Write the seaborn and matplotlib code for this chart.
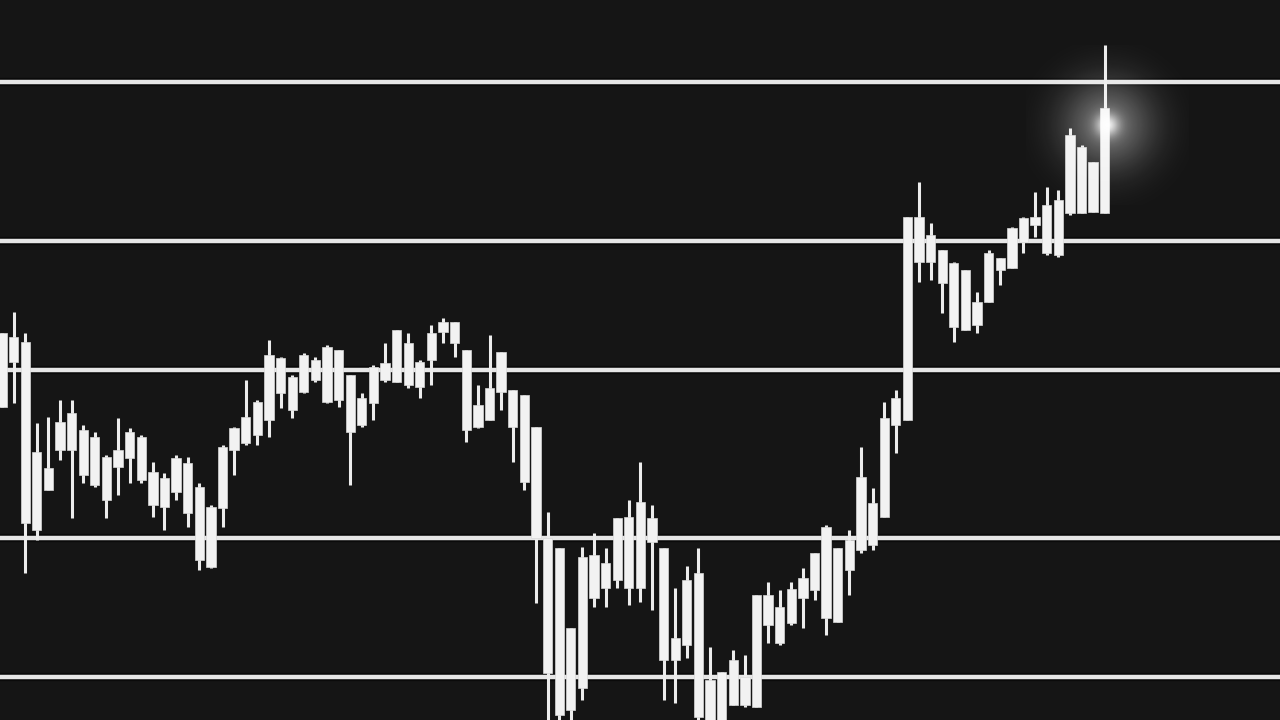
import numpy as np
import pandas as pd
from matplotlib import pyplot as plt
import seaborn as sns

# candle levels (depth scale: 0 = top of chart, 720 = bottom)
wick_top = [333, 312, 333, 423, 417, 400, 400, 425, 432, 455, 418, 428, 435, 462, 473, 455,
            457, 483, 505, 445, 427, 380, 400, 340, 357, 375, 353, 357, 345, 350, 375, 393,
            365, 343, 330, 333, 360, 325, 318, 322, 350, 385, 335, 352, 390, 395, 427, 512,
            548, 628, 547, 533, 548, 518, 500, 462, 505, 548, 588, 566, 548, 647, 672, 650,
            655, 595, 582, 590, 582, 568, 553, 525, 548, 530, 447, 488, 402, 390, 217, 182,
            223, 250, 262, 270, 292, 250, 258, 227, 217, 192, 187, 190, 128, 145, 162, 45]
body_top = [333, 337, 342, 452, 468, 422, 413, 430, 437, 457, 450, 432, 437, 472, 478, 458,
            463, 487, 507, 447, 428, 417, 402, 355, 358, 377, 355, 360, 347, 350, 375, 398,
            367, 363, 330, 343, 362, 333, 322, 322, 350, 405, 388, 352, 390, 395, 427, 538,
            548, 628, 557, 555, 563, 518, 517, 502, 518, 548, 638, 580, 573, 680, 672, 660,
            677, 595, 595, 607, 589, 578, 553, 527, 548, 540, 477, 503, 418, 398, 217, 217,
            235, 250, 263, 270, 302, 253, 258, 228, 218, 217, 205, 200, 135, 147, 162, 108]
body_bot = [407, 362, 523, 530, 490, 450, 450, 475, 485, 500, 467, 458, 480, 505, 507, 492,
            513, 560, 567, 508, 450, 443, 435, 420, 393, 410, 392, 380, 402, 400, 432, 425,
            403, 380, 382, 385, 387, 360, 332, 343, 430, 427, 420, 392, 427, 482, 538, 673,
            715, 710, 688, 598, 588, 580, 588, 588, 542, 660, 660, 645, 717, 720, 720, 705,
            705, 707, 625, 643, 623, 598, 590, 618, 622, 570, 550, 545, 517, 425, 420, 262,
            262, 283, 327, 330, 325, 302, 270, 268, 242, 225, 253, 255, 213, 213, 212, 213]
wick_bot = [407, 403, 573, 540, 490, 460, 518, 483, 487, 518, 495, 483, 483, 517, 530, 500,
            527, 570, 568, 527, 475, 445, 445, 437, 408, 418, 393, 382, 403, 407, 485, 427,
            420, 382, 382, 388, 398, 385, 343, 357, 442, 428, 420, 410, 462, 490, 603, 720,
            720, 720, 700, 607, 607, 588, 605, 602, 610, 700, 703, 658, 720, 720, 720, 705,
            707, 707, 643, 645, 625, 628, 600, 635, 622, 595, 553, 550, 517, 453, 420, 282,
            280, 313, 342, 330, 333, 302, 285, 268, 253, 237, 255, 257, 215, 213, 212, 213]
levels = [82, 241, 370, 538, 677]

df = pd.DataFrame({"wick_top": wick_top, "body_top": body_top,
                   "body_bot": body_bot, "wick_bot": wick_bot})
df["idx"] = np.arange(len(df))

bg = "#151515"
sns.set_theme(style="dark", rc={"axes.facecolor": bg, "figure.facecolor": bg,
                                "axes.grid": False})

fig = plt.figure(figsize=(12.8, 7.2), dpi=100)
ax = fig.add_axes([0, 0, 1, 1])
ax.set_facecolor(bg)

for lv in levels:
    ax.axhline(lv, color="#0a0a0a", linewidth=6, zorder=1)
    ax.axhline(lv, color="#e6e6e6", linewidth=3.2, zorder=2)

ax.vlines(df["idx"], df["wick_top"], df["wick_bot"], color="#ececec", linewidth=2.2, zorder=3)
ax.bar(df["idx"], df["body_bot"] - df["body_top"], bottom=df["body_top"], width=0.8,
       color="#f2f2f2", edgecolor="#d8d8d8", linewidth=0.5, zorder=4)

# glow at the last candle
last = df.iloc[-1]
gx, gy = last["idx"] + 0.2, last["body_top"] + 17
n = 201
yy, xx = np.mgrid[-1:1:n * 1j, -1:1:n * 1j]
r = np.sqrt(xx ** 2 + yy ** 2)
alpha = 0.4 * np.exp(-(r / 0.55) ** 2) + 0.55 * np.exp(-(r / 0.14) ** 2)
img = np.ones((n, n, 4))
img[..., 3] = np.clip(alpha, 0, 1)
ax.imshow(img, extent=(gx - 7, gx + 7, gy + 80, gy - 80), zorder=5, interpolation="bilinear",
          aspect="auto")

ax.set_xlim(-0.17, 110.1)
ax.set_ylim(720, 0)
ax.axis("off")
plt.savefig("out.png", dpi=100, facecolor=bg)
